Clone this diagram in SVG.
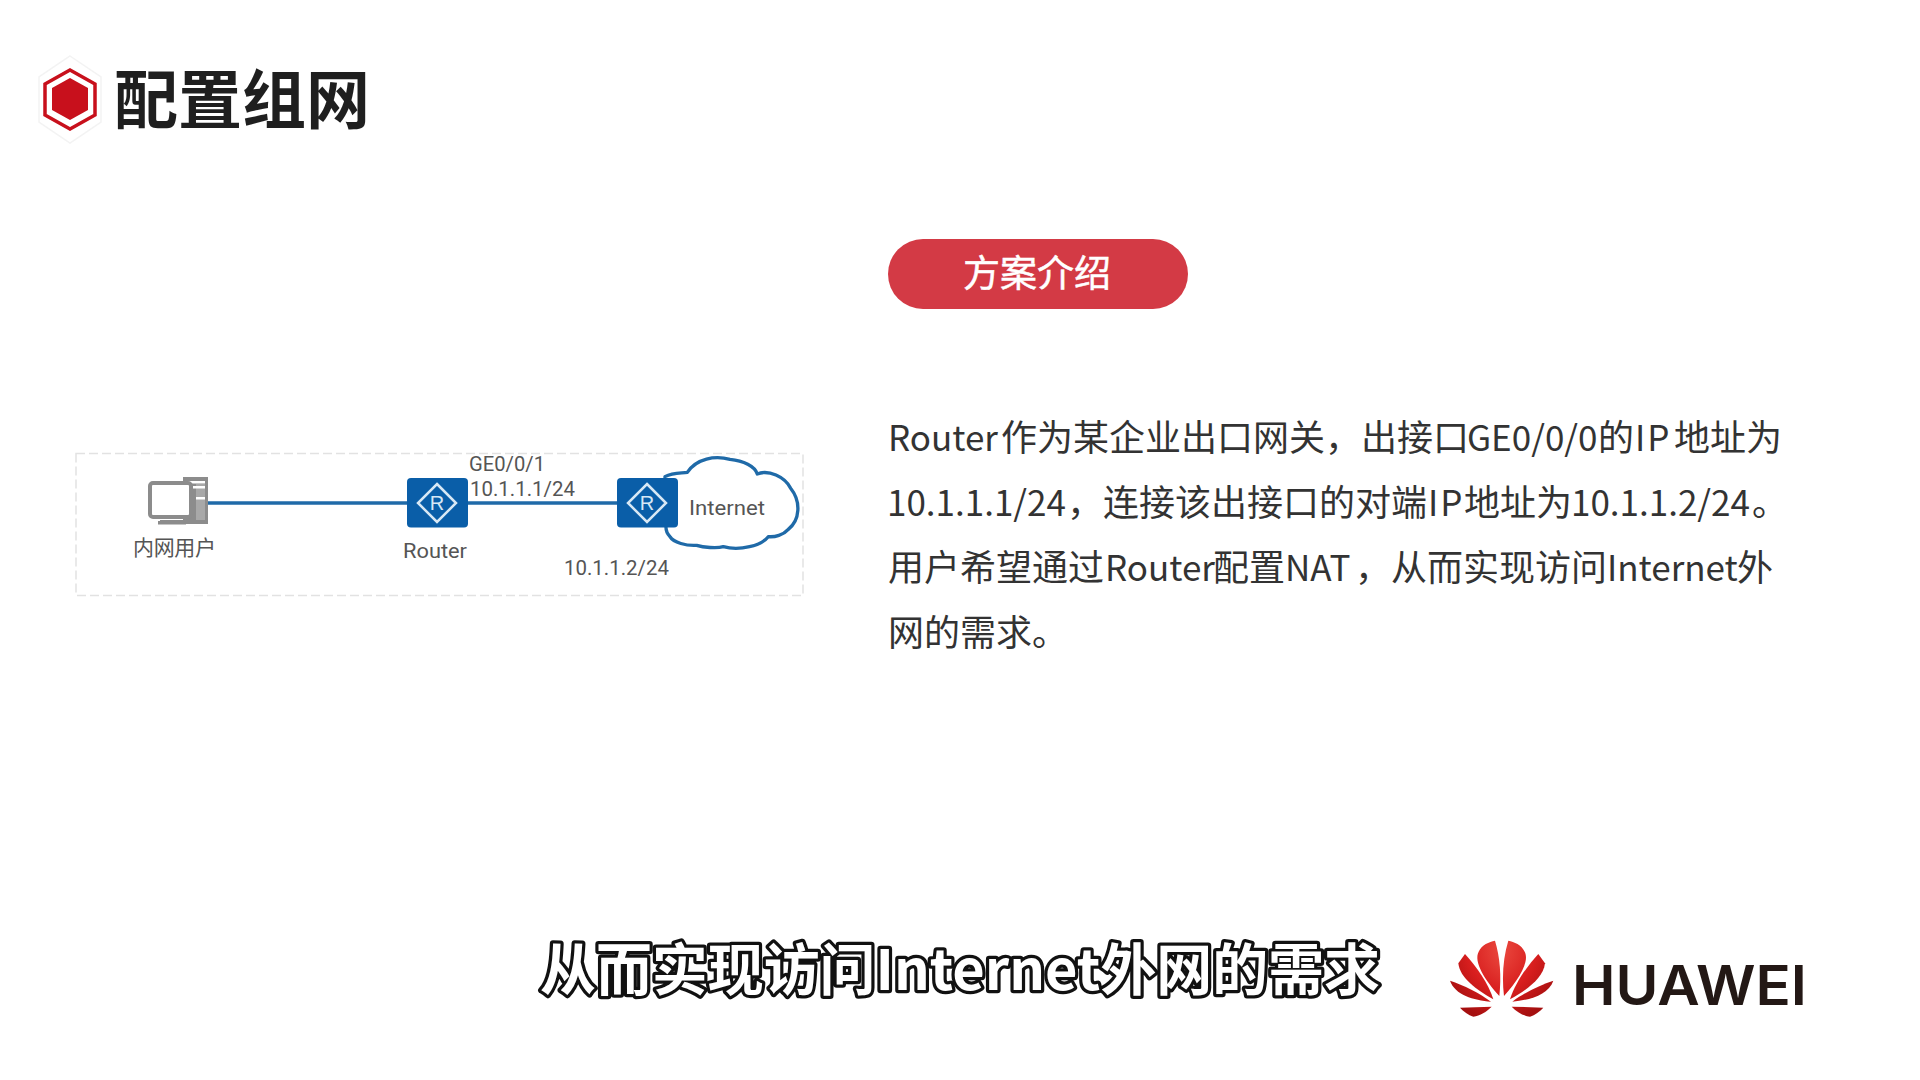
<svg xmlns="http://www.w3.org/2000/svg" width="1920" height="1080" viewBox="0 0 1920 1080">
<style>
text{font-family:"Noto Sans CJK SC","Noto Sans",sans-serif}
.lbl{font-size:21px;fill:#555}
.lat{font-family:Roboto,"Noto Sans",sans-serif}
.body{font-size:36px;fill:#333}
.l{font-size:35px}
.ip{font-size:35px;letter-spacing:2px}
.link{stroke:#1f6aa8;stroke-width:3.5;fill:none}
.rbox{fill:#0a5ea8}
.dia{fill:none;stroke:#d8e8f5;stroke-width:2.5}
.r{font-size:20px;fill:#d8e8f5;text-anchor:middle;font-family:"Liberation Sans",sans-serif}
.pc{fill:#8c8c8c}
</style>
<defs>
<radialGradient id="petal" gradientUnits="userSpaceOnUse" cx="250" cy="85" r="230">
<stop offset="0" stop-color="#f2a08c"/><stop offset=".2" stop-color="#e8433a"/><stop offset=".6" stop-color="#d81e1e"/><stop offset="1" stop-color="#a50f0f"/>
</radialGradient>
<g id="petals">
<path d="M208 228C165 180 130 125 146 95C155 75 178 65 195 62C210 110 215 170 208 228Z"/>
<path d="M190 238C140 210 90 175 85 130L105 102C140 140 175 190 190 238Z"/>
<path d="M183 245C130 240 75 225 60 182C100 195 150 220 183 245Z"/>
<path d="M90 263L185 260C170 275 150 288 130 290C115 285 100 275 90 263Z"/>
</g>
</defs>
<rect width="1920" height="1080" fill="#fff"/>

<g id="title">
<polygon points="70,56 101,77 101,122 70,143 39,122 39,77" fill="#fff" stroke="#f3f3f3" stroke-width="1.5"/>
<polygon points="70,70 95,84 95,115 70,129 45,115 45,84" fill="#fff" stroke="#c8101c" stroke-width="3.5"/>
<polygon points="70,78 88,88 88,110 70,120 52,110 52,88" fill="#c8101c"/>
<text x="114" y="123" font-size="64" font-weight="700" fill="#1f1f1f" textLength="256" lengthAdjust="spacingAndGlyphs">配置组网</text>
</g>

<g id="scheme-pill">
<rect x="888" y="239" width="300" height="70" rx="35" fill="#d33a45"/>
<text x="1037" y="287" font-size="37" fill="#fff" stroke="#fff" stroke-width=".5" text-anchor="middle">方案介绍</text>
</g>

<g id="description">
<text class="body" y="451"><tspan class="l" x="888">Router</tspan><tspan x="1001">作为某企业出口网关，出接口</tspan><tspan class="l" x="1467">GE0/0/0</tspan><tspan x="1598">的</tspan><tspan class="ip" x="1635">IP</tspan><tspan x="1674">地址为</tspan></text>
<text class="body" y="516"><tspan class="l" x="887">10.1.1.1/24</tspan><tspan x="1067">，连接该出接口的对端</tspan><tspan class="ip" x="1428">IP</tspan><tspan x="1464">地址为</tspan><tspan class="l" x="1571">10.1.1.2/24</tspan><tspan x="1752">。</tspan></text>
<text class="body" y="581"><tspan x="888">用户希望通过</tspan><tspan class="l" x="1105">Router</tspan><tspan x="1213">配置</tspan><tspan class="l" x="1285">NAT</tspan><tspan x="1355">，从而实现访问</tspan><tspan class="l" x="1607">Internet</tspan><tspan x="1737">外</tspan></text>
<text class="body" x="888" y="646">网的需求。</text>
</g>

<g id="frame">
<rect x="76" y="453.5" width="727" height="142" fill="none" stroke="#e2e2e2" stroke-width="1.5" stroke-dasharray="9 4"/>
</g>

<g id="connectors">
<line class="link" x1="208" y1="503" x2="408" y2="503"/>
<line class="link" x1="468" y1="503" x2="618" y2="503"/>
</g>

<g id="node-pc">
<path class="pc" d="M183 477H208V524H160V520H183Z"/>
<rect x="196" y="484" width="9" height="36" fill="#a8a8a8"/>
<rect x="187" y="481" width="18" height="2.5" fill="#fff"/>
<rect x="187" y="486" width="18" height="2.5" fill="#fff"/>
<rect x="196" y="497" width="9" height="2.5" fill="#fff"/>
<rect x="150" y="483" width="41" height="34" rx="3" fill="#fff" stroke="#8c8c8c" stroke-width="4"/>
<rect x="158" y="521" width="28" height="3.5" class="pc"/>
<text class="lbl" x="133" y="555" textLength="83">内网用户</text>
</g>

<g id="node-router">
<rect class="rbox" x="407" y="478" width="61" height="49.5" rx="4"/>
<polygon class="dia" points="437,484 456,503 437,522 418,503"/>
<text class="r" x="437" y="510">R</text>
<text class="lbl lat" x="403" y="558" textLength="64" lengthAdjust="spacingAndGlyphs">Router</text>
</g>

<g id="node-internet">
<path transform="translate(440 440) scale(.3333)" fill="#fff" stroke="#1f6aa8" stroke-width="10" stroke-linejoin="round" d="M675 110C700 96 725 100 742 97C770 55 825 46 870 58C910 62 945 78 952 102C985 88 1035 110 1052 145C1084 185 1080 240 1045 268C1030 285 1005 292 985 290C965 316 900 334 850 320C830 326 790 322 770 316C740 318 700 308 690 290C682 282 678 272 678 262Z"/>
<text class="lbl lat" x="689" y="515" textLength="76" lengthAdjust="spacingAndGlyphs">Internet</text>
</g>

<g id="node-gateway">
<rect class="rbox" x="617" y="478" width="61" height="49.5" rx="4"/>
<polygon class="dia" points="647,484 666,503 647,522 628,503"/>
<text class="r" x="647" y="510">R</text>
</g>

<g id="labels">
<text class="lbl lat" x="469" y="471" textLength="76" lengthAdjust="spacingAndGlyphs">GE0/0/1</text>
<text class="lbl lat" x="470" y="496" textLength="105" lengthAdjust="spacingAndGlyphs">10.1.1.1/24</text>
<text class="lbl lat" x="564" y="575" textLength="105" lengthAdjust="spacingAndGlyphs">10.1.1.2/24</text>
</g>

<g id="subtitle">
<text x="540" y="990" font-size="56" font-weight="700" fill="#fff" stroke="#111" stroke-width="6.5" stroke-linejoin="round" paint-order="stroke" textLength="840" lengthAdjust="spacingAndGlyphs">从而实现访问Internet外网的需求</text>
</g>

<g id="huawei-logo">
<g transform="translate(1430 920) scale(.3333)" fill="url(#petal)">
<use href="#petals"/>
<use href="#petals" transform="translate(430 0) scale(-1 1)"/>
</g>
<text x="1572" y="1005" font-size="55" font-weight="600" fill="#231815" textLength="235" lengthAdjust="spacingAndGlyphs" style="font-family:Inter,'Liberation Sans',sans-serif">HUAWEI</text>
</g>
</svg>
